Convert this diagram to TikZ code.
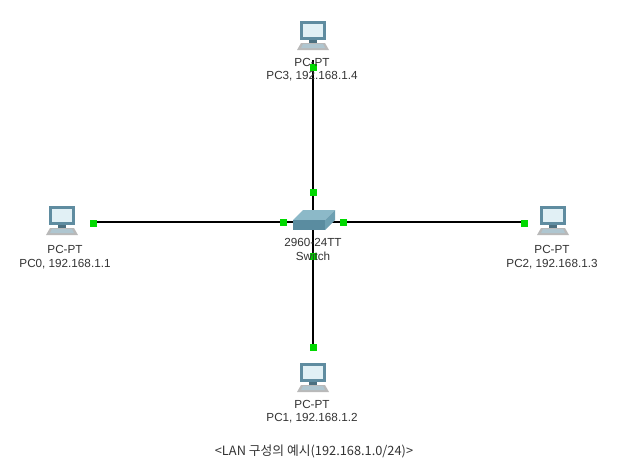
\documentclass[tikz,border=0pt]{standalone}
\usepackage{fontspec}
\setmainfont{Liberation Sans}
\newfontfamily\cjk{Noto Sans CJK KR}
\definecolor{mon}{RGB}{95,140,160}
\definecolor{scr}{RGB}{225,240,245}
\definecolor{swt}{RGB}{140,185,200}
\definecolor{swf}{RGB}{90,140,160}
\definecolor{sws}{RGB}{110,160,178}
\begin{document}
\begin{tikzpicture}[x=1pt,y=-1pt,
  lbl/.style={font=\fontsize{11.7}{13}\selectfont,text=black!80,inner sep=0pt},
  dot/.style={fill=green!85!black,draw=none,minimum size=7pt,inner sep=0pt},
  ln/.style={line width=1.8pt,black},
  pc/.pic={
    \fill[gray!55] (-12,10) -- (12,10) -- (16,17) -- (-16,17) -- cycle;
    \fill[mon!50!white] (-10,11) -- (10,11) -- (12,15) -- (-12,15) -- cycle;
    \fill[mon] (-13,-12) rectangle (13,7);
    \fill[scr] (-10,-9) rectangle (10,4);
    \fill[mon!80!black] (-4,7) rectangle (4,10);
  },
  sw/.pic={
    \fill[swt] (-20,-2) -- (-10,-12) -- (22,-12) -- (12,-2) -- cycle;
    \fill[swf] (-20,-2) rectangle (12,8);
    \fill[sws] (12,-2) -- (22,-12) -- (22,-2) -- (12,8) -- cycle;
  }]
\useasboundingbox (0,0) rectangle (628,466);
\node[inner sep=0pt] (sw) at (313,222) {};
\node (pc0) at (62,218) {}; \node (pc2) at (553,218) {};
\node (pc1) at (313,375) {}; \node (pc3) at (313,33) {};
\coordinate (l) at (93,222); \coordinate (r) at (525,222);
\coordinate (t) at (313,60); \coordinate (b) at (313,350);
\draw[ln] (l) -- (r);
\draw[ln] (t) -- (b);
\pic at (pc0) {pc}; \pic at (pc2) {pc}; \pic at (pc1) {pc}; \pic at (pc3) {pc};
\pic at (sw) {sw};
\foreach \p in {(93,223),(283,222),(343,222),(524,223),(313,192),(313,347),(313,67),(313,256)}
  \node[dot] at \p {};
\node[lbl] at (65,249) {PC-PT}; \node[lbl] at (65,264) {PC0, 192.168.1.1};
\node[lbl] at (552,249) {PC-PT}; \node[lbl] at (552,264) {PC2, 192.168.1.3};
\node[lbl] at (312,404) {PC-PT}; \node[lbl] at (312,418) {PC1, 192.168.1.2};
\node[lbl] at (312,62) {PC-PT}; \node[lbl] at (312,76) {PC3, 192.168.1.4};
\node[lbl] at (313,242) {2960-24TT}; \node[lbl] at (313,256) {Switch};
\node[lbl,font=\cjk\fontsize{12.8}{15}\selectfont] at (314,451) {<LAN 구성의 예시(192.168.1.0/24)>};
\end{tikzpicture}
\end{document}
